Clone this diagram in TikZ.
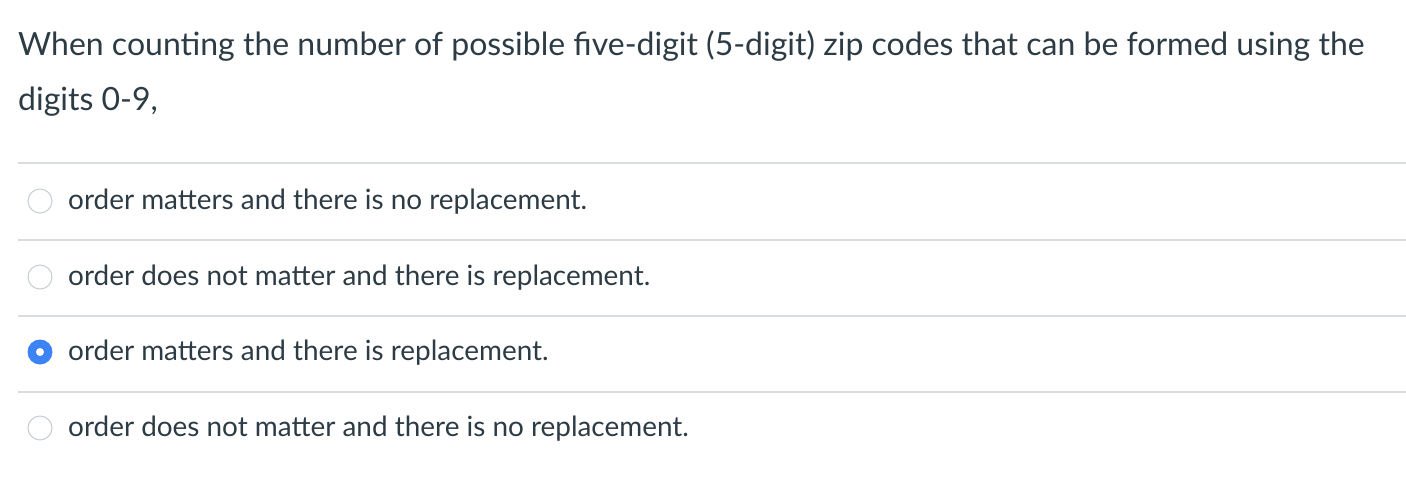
\documentclass[tikz,border=0pt]{standalone}
\usepackage{fontspec}
\setmainfont{Lato}
\definecolor{txt}{HTML}{2D3B45}
\definecolor{sep}{HTML}{DADDE0}
\definecolor{rad}{HTML}{C7CDD1}
\definecolor{sel}{HTML}{3C84F5}
\begin{document}
\begin{tikzpicture}[x=1pt,y=-1pt,
  q/.style={anchor=base west,inner sep=0,text=txt,font=\fontsize{32}{38}\selectfont},
  opt/.style={anchor=base west,inner sep=0,text=txt,font=\fontsize{27.9}{33}\selectfont},
  sepline/.style={draw=sep,line width=1.5pt},
  radio/.style={circle,draw=rad,line width=1pt,fill=white,minimum size=24pt,inner sep=0}]
\useasboundingbox (0,0) rectangle (1406,488);
\node[q] (t1) at (18,55) {When counting the number of possible five-digit (5-digit) zip codes that can be formed using the};
\node[q] (t2) at (18,110) {digits 0-9,};
\foreach \y in {163,240,316,392} \draw[sepline] (18,\y) -- (1406,\y);
\node[radio] (r1) at (40,201) {};
\node[radio] (r2) at (40,277) {};
\node[circle,fill=sel,minimum size=25pt,inner sep=0] (r3) at (40,352) {};
\node[circle,fill=white,minimum size=8pt,inner sep=0] (r3c) at (40,352) {};
\node[radio] (r4) at (40,428) {};
\node[opt] (o1) at (68,209) {order matters and there is no replacement.};
\node[opt] (o2) at (68,285) {order does not matter and there is replacement.};
\node[opt] (o3) at (68,360) {order matters and there is replacement.};
\node[opt] (o4) at (68,436) {order does not matter and there is no replacement.};
\end{tikzpicture}
\end{document}
